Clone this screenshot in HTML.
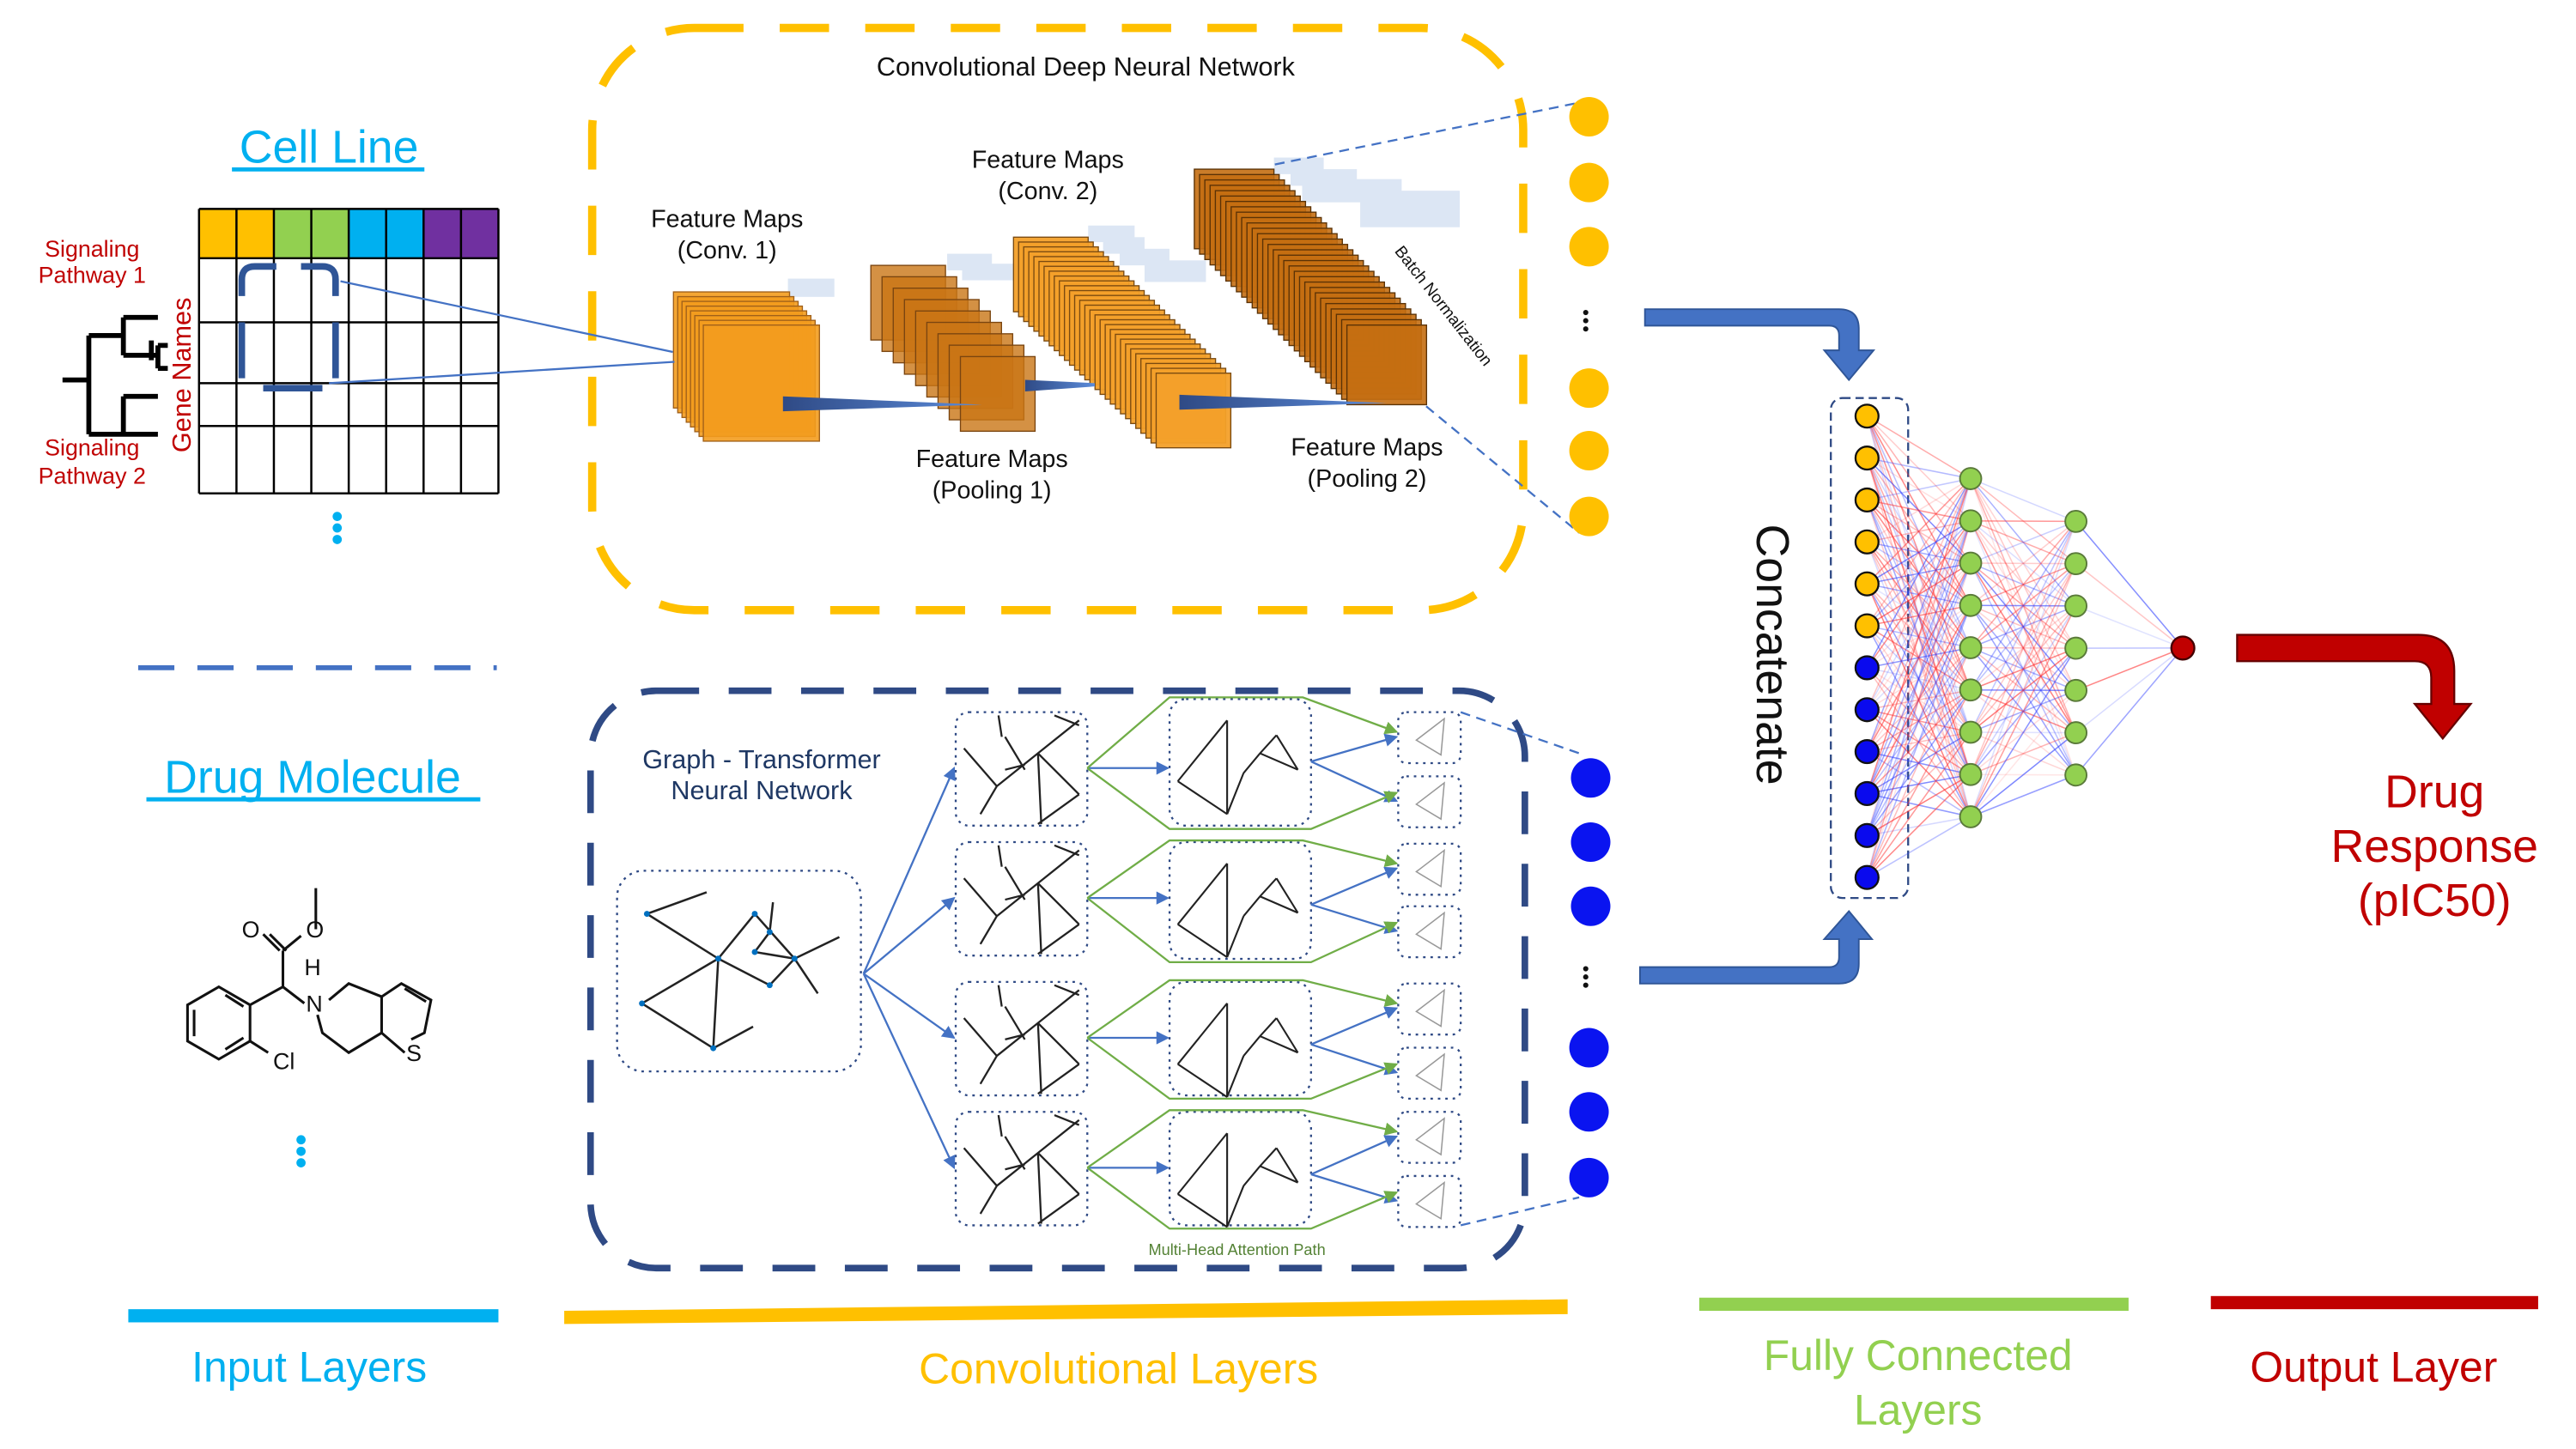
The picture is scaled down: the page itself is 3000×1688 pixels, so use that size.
<!DOCTYPE html>
<html><head><meta charset="utf-8"><style>
html,body{margin:0;padding:0;background:#fff;}
svg{display:block;}
text{font-family:"Liberation Sans",sans-serif;}
</style></head><body>
<svg id="s" width="3000" height="1688" viewBox="0 0 1566 881" preserveAspectRatio="none" xmlns="http://www.w3.org/2000/svg">
<defs>
<marker id="ab" markerWidth="8" markerHeight="8" refX="7" refY="4" orient="auto" markerUnits="userSpaceOnUse"><path d="M0,0 L8,4 L0,8 z" fill="#4472C4"/></marker>
<marker id="ag" markerWidth="8" markerHeight="8" refX="7" refY="4" orient="auto" markerUnits="userSpaceOnUse"><path d="M0,0 L8,4 L0,8 z" fill="#70AD47"/></marker>
<linearGradient id="tb" x1="0" x2="1"><stop offset="0" stop-color="#2F4A85"/><stop offset="1" stop-color="#5B8BD9"/></linearGradient>
</defs>
<rect width="1566" height="881" fill="#fff"/>

<!-- Top yellow box -->
<rect x="360" y="17" width="566" height="354" rx="62" fill="none" stroke="#FFC000" stroke-width="5" stroke-dasharray="30 22"/>
<text x="660" y="46" font-size="16" text-anchor="middle" fill="#111">Convolutional Deep Neural Network</text>

<g transform="scale(1.0084)">
<g fill="#DCE6F4">
<rect x="475" y="168" width="28" height="11"/>
<rect x="571" y="153" width="27" height="10"/><rect x="580" y="159" width="33" height="10"/>
<rect x="656" y="136" width="28" height="10"/><rect x="665" y="143" width="25" height="10"/><rect x="675" y="150" width="30" height="10"/><rect x="690" y="157" width="37" height="13"/>
<rect x="768" y="95" width="30" height="10"/><rect x="778" y="102" width="40" height="10"/><rect x="785" y="108" width="60" height="14"/><rect x="820" y="115" width="60" height="22"/>
</g>
<g id="stacks"></g>
<polygon points="472,239 592,244 472,248" fill="url(#tb)"/>
<polygon points="618,229 660,231 660,233 618,236" fill="url(#tb)"/>
<polygon points="711,238 836,243 711,247" fill="url(#tb)"/>
</g>

<text x="442" y="138" font-size="15" text-anchor="middle" fill="#111">Feature Maps</text>
<text x="442" y="157" font-size="15" text-anchor="middle" fill="#111">(Conv. 1)</text>
<text x="637" y="102" font-size="15" text-anchor="middle" fill="#111">Feature Maps</text>
<text x="637" y="121" font-size="15" text-anchor="middle" fill="#111">(Conv. 2)</text>
<text x="603" y="284" font-size="15" text-anchor="middle" fill="#111">Feature Maps</text>
<text x="603" y="303" font-size="15" text-anchor="middle" fill="#111">(Pooling 1)</text>
<text x="831" y="277" font-size="15" text-anchor="middle" fill="#111">Feature Maps</text>
<text x="831" y="296" font-size="15" text-anchor="middle" fill="#111">(Pooling 2)</text>
<text x="875" y="188" font-size="10" text-anchor="middle" fill="#111" transform="rotate(52 875 188)">Batch Normalization</text>

<line x1="775" y1="100" x2="962" y2="62" stroke="#4472C4" stroke-width="1.2" stroke-dasharray="6 4"/>
<line x1="867" y1="247" x2="960" y2="324" stroke="#4472C4" stroke-width="1.2" stroke-dasharray="6 4"/>

<g fill="#FFC000">
<circle cx="966" cy="71" r="12"/><circle cx="966" cy="111" r="12"/><circle cx="966" cy="150" r="12"/>
<circle cx="966" cy="236" r="12"/><circle cx="966" cy="274" r="12"/><circle cx="966" cy="314" r="12"/>
</g>
<g fill="#111"><circle cx="964" cy="190" r="1.6"/><circle cx="964" cy="195" r="1.6"/><circle cx="964" cy="200" r="1.6"/></g>

<!-- Cell line -->
<text x="200" y="99" font-size="28" text-anchor="middle" fill="#00B0F0">Cell Line</text>
<line x1="141" y1="103" x2="258" y2="103" stroke="#00B0F0" stroke-width="2.5"/>
<g id="grid"></g>
<text x="56" y="156" font-size="14" text-anchor="middle" fill="#C00000">Signaling</text>
<text x="56" y="172" font-size="14" text-anchor="middle" fill="#C00000">Pathway 1</text>
<text x="56" y="277" font-size="14" text-anchor="middle" fill="#C00000">Signaling</text>
<text x="56" y="294" font-size="14" text-anchor="middle" fill="#C00000">Pathway 2</text>
<text x="0" y="0" font-size="16" text-anchor="middle" fill="#C00000" transform="translate(116 228) rotate(-90)">Gene Names</text>
<path d="M38,231 H54 M54,204 V264 M54,204 H75 M54,264 H75 M75,193 V216 M75,193 H96 M75,216 H96 M96,210 V224 M96,210 H102 M96,224 H102 M92,207 V219 M75,241 V264 M75,241 H96 M75,264 H96" fill="none" stroke="#000" stroke-width="3"/>
<path d="M147,180 V170 Q147,162 155,162 H168 M183,162 H196 Q204,162 204,170 V180 M147,196 V230 M204,196 V230 M160,236 H196" fill="none" stroke="#2F5597" stroke-width="4"/>
<line x1="207" y1="171" x2="409" y2="214" stroke="#4472C4" stroke-width="1.2"/>
<line x1="200" y1="233" x2="410" y2="220" stroke="#4472C4" stroke-width="1.2"/>
<g fill="#00B0F0"><circle cx="205" cy="314" r="2.8"/><circle cx="205" cy="321" r="2.8"/><circle cx="205" cy="328" r="2.8"/></g>

<line x1="84" y1="406" x2="302" y2="406" stroke="#4472C4" stroke-width="3" stroke-dasharray="22 14"/>

<!-- Drug molecule -->
<text x="190" y="482" font-size="28" text-anchor="middle" fill="#00B0F0">Drug Molecule</text>
<line x1="89" y1="486" x2="292" y2="486" stroke="#00B0F0" stroke-width="2.5"/>
<g fill="none" stroke="#111" stroke-width="1.6">
<polygon points="133,600 152,611 152,633 133,644 114,633 114,611"/>
<path d="M137,605 L148,612 M148,631 L137,638 M118,630 V614"/>
<path d="M152,611 L172,600 L172,578 M172,600 L185,610"/>
<path d="M170,578 L160,568 M174,578 L164,568 M172,578 L183,569 M192,565 V540"/>
<path d="M152,633 L163,640"/>
<path d="M200,608 L212,598 L232,606 L232,628 L212,640 L196,628 L193,617"/>
<path d="M232,606 L244,598 L262,608 L258,628 L250,632 M232,628 L246,640"/>
<path d="M246,601 L259,609"/>
</g>
<text x="147" y="570" font-size="14" fill="#111">O</text>
<text x="186" y="570" font-size="14" fill="#111">O</text>
<text x="185" y="593" font-size="14" fill="#111">H</text>
<text x="186" y="615" font-size="14" fill="#111">N</text>
<text x="166" y="650" font-size="14" fill="#111">Cl</text>
<text x="247" y="645" font-size="14" fill="#111">S</text>
<g fill="#00B0F0"><circle cx="183" cy="693" r="2.8"/><circle cx="183" cy="700" r="2.8"/><circle cx="183" cy="707" r="2.8"/></g>

<!-- Bottom navy box -->
<rect x="359" y="420" width="568" height="351" rx="40" fill="none" stroke="#2F4A85" stroke-width="4" stroke-dasharray="26 18"/>
<text x="463" y="467" font-size="16" text-anchor="middle" fill="#1F3864">Graph - Transformer</text>
<text x="463" y="486" font-size="16" text-anchor="middle" fill="#1F3864">Neural Network</text>
<g id="graphs"></g>
<g transform="scale(1.0084)">
<rect x="372" y="525" width="147" height="121" rx="16" fill="none" stroke="#2F4A85" stroke-width="1.2" stroke-dasharray="1.5 3"/>
<g stroke="#222" stroke-width="1.3" fill="none">
<path d="M390,551 L426,538 M390,551 L433,578 L455,551 L479,578 M464,562 L466,544 M464,562 L455,574 L479,578 M433,578 L464,594 L479,578 L506,565 M479,578 L493,599 M433,578 L387,605 L430,632 L433,578 M430,632 L454,619"/>
</g>
<g fill="#0070C0"><circle cx="390" cy="551" r="1.8"/><circle cx="433" cy="578" r="1.8"/><circle cx="455" cy="551" r="1.8"/><circle cx="464" cy="562" r="1.8"/><circle cx="455" cy="574" r="1.8"/><circle cx="479" cy="578" r="1.8"/><circle cx="464" cy="594" r="1.8"/><circle cx="387" cy="605" r="1.8"/><circle cx="430" cy="632" r="1.8"/></g>
</g>
<text x="752" y="763" font-size="9.5" text-anchor="middle" fill="#548235">Multi-Head Attention Path</text>
<line x1="888" y1="433" x2="960" y2="458" stroke="#4472C4" stroke-width="1.2" stroke-dasharray="6 4"/>
<line x1="888" y1="745" x2="960" y2="728" stroke="#4472C4" stroke-width="1.2" stroke-dasharray="6 4"/>
<g fill="#0A14F0">
<ellipse cx="967" cy="473" rx="12" ry="12"/><ellipse cx="967" cy="512" rx="12" ry="12"/><ellipse cx="967" cy="551" rx="12" ry="12"/>
<ellipse cx="966" cy="637" rx="12" ry="12"/><ellipse cx="966" cy="676" rx="12" ry="12"/><ellipse cx="966" cy="716" rx="12" ry="12"/>
</g>
<g fill="#111"><circle cx="964" cy="589" r="1.6"/><circle cx="964" cy="594" r="1.6"/><circle cx="964" cy="599" r="1.6"/></g>

<!-- blue bent arrows -->
<path d="M1000,188 H1118 Q1130,188 1130,200 V213 H1139 L1124,231 L1109,213 H1118 V204 Q1118,198 1112,198 H1000 Z" fill="#4472C4" stroke="#2F5597" stroke-width="1"/>
<path d="M997,598 H1118 Q1130,598 1130,586 V571 H1138 L1124,554 L1109,571 H1118 V582 Q1118,588 1112,588 H997 Z" fill="#4472C4" stroke="#2F5597" stroke-width="1"/>

<text x="0" y="0" font-size="28" text-anchor="middle" fill="#111" transform="translate(1068 398) rotate(90)">Concatenate</text>
<rect x="1113" y="242" width="47" height="304" rx="7" fill="none" stroke="#2F4A85" stroke-width="1.2" stroke-dasharray="5 3"/>
<g id="nn"></g>

<!-- red arrow -->
<path d="M1360,386 H1470 Q1492,386 1492,408 V428 H1502 L1485,449 L1468,428 H1478 V412 Q1478,402 1468,402 H1360 Z" fill="#C00000" stroke="#600" stroke-width="1.2"/>
<text x="1480" y="491" font-size="28" text-anchor="middle" fill="#C00000">Drug</text>
<text x="1480" y="524" font-size="28" text-anchor="middle" fill="#C00000">Response</text>
<text x="1480" y="557" font-size="28" text-anchor="middle" fill="#C00000">(pIC50)</text>

<!-- bottom bars -->
<rect x="78" y="796" width="225" height="8" fill="#00B0F0"/>
<polygon points="343,797 953,790 953,799 343,805" fill="#FFC000"/>
<rect x="1033" y="789" width="261" height="8" fill="#92D050"/>
<rect x="1344" y="788" width="199" height="8" fill="#C00000"/>
<text x="188" y="840" font-size="26" text-anchor="middle" fill="#00B0F0">Input Layers</text>
<text x="680" y="841" font-size="26" text-anchor="middle" fill="#FFC000">Convolutional Layers</text>
<text x="1166" y="833" font-size="26" text-anchor="middle" fill="#92D050">Fully Connected</text>
<text x="1166" y="866" font-size="26" text-anchor="middle" fill="#92D050">Layers</text>
<text x="1443" y="840" font-size="26" text-anchor="middle" fill="#C00000">Output Layer</text>
</svg>
<script>
var NS="http://www.w3.org/2000/svg";
function el(p,t,a){var e=document.createElementNS(NS,t);for(var k in a)e.setAttribute(k,a[k]);p.appendChild(e);return e;}
var g=document.getElementById("grid");
var cols=["#FFC000","#FFC000","#92D050","#92D050","#00B0F0","#00B0F0","#7030A0","#7030A0"];
var x0=121,w=182/8;
for(var i=0;i<8;i++)el(g,"rect",{x:x0+i*w,y:127,width:w,height:30,fill:cols[i]});
[127,157,196,233,259,300].forEach(function(y){el(g,"line",{x1:x0,y1:y,x2:303,y2:y,stroke:"#000","stroke-width":1.3});});
for(var i=0;i<=8;i++)el(g,"line",{x1:x0+i*w,y1:127,x2:x0+i*w,y2:300,stroke:"#000","stroke-width":1.3});
var st=document.getElementById("stacks");
function stack(n,x,y,x2,y2,s,fill,stroke,op){
 var dx=(x2-x)/(n-1),dy=(y2-y)/(n-1);
 for(var i=0;i<n;i++)el(st,"rect",{x:x+i*dx,y:y+i*dy,width:s,height:s,fill:fill,stroke:stroke,"stroke-width":0.7,"fill-opacity":op});
}
stack(8,406,176,424,196,70,"#F39C1E","#A0601A",0.9);
stack(9,525,160,579,215,45,"#C97515","#7A4510",0.8);
stack(29,611,143,697,225,45,"#F3A02A","#7A4A10",0.95);
stack(30,720,102,812,196,48,"#C46E12","#5A3206",0.9);
var gr=document.getElementById("graphs");
function box(x,y,w,h,r){el(gr,"rect",{x:x,y:y,width:w,height:h,rx:r,fill:"none",stroke:"#2F4A85","stroke-width":1.2,"stroke-dasharray":"1.5 3"});}
function lines(d,ox,oy,c,wd){var p="";d.forEach(function(s){p+="M"+(ox+s[0])+","+(oy+s[1])+" L"+(ox+s[2])+","+(oy+s[3])+" ";});el(gr,"path",{d:p,stroke:c,"stroke-width":wd,fill:"none"});}
var c1=[433,512,597,676],c2=[425,512,597,676],c3=[433,472,513,551,598,637,676,715];
c1.forEach(function(y){box(581,y,80,69,8);
 lines([[5,22,25,45],[25,45,50,25],[50,25,75,5],[50,25,75,50],[75,50,50,68],[50,25,52,68],[30,15,42,35],[25,45,15,62],[60,2,75,8],[28,15,26,2],[30,35,42,32]],581,y,"#222",1.2);
 el(gr,"line",{x1:525,y1:592,x2:580,y2:y+34,stroke:"#4472C4","stroke-width":1.2,"marker-end":"url(#ab)"});
 el(gr,"line",{x1:661,y1:y+34,x2:710,y2:y+34,stroke:"#4472C4","stroke-width":1.2,"marker-end":"url(#ab)"});
});
c2.forEach(function(y,i){var h=(i==0?77:i==1?71:69);box(711,y,86,h,10);
 lines([[5,45,35,8],[35,8,35,65],[35,65,5,45],[35,65,45,40],[45,40,55,28],[55,28,78,38],[78,38,65,17],[65,17,55,28]],711,y+5,"#222",1.1);
 var a=c3[2*i],b=c3[2*i+1];
 el(gr,"line",{x1:797,y1:y+38,x2:849,y2:a+15,stroke:"#4472C4","stroke-width":1.2,"marker-end":"url(#ab)"});
 el(gr,"line",{x1:797,y1:y+38,x2:849,y2:b+15,stroke:"#4472C4","stroke-width":1.2,"marker-end":"url(#ab)"});
 var cy=c1[i]+34;
 el(gr,"path",{d:"M661,"+cy+" L711,"+(y-1)+" L792,"+(y-1)+" L849,"+(a+12),stroke:"#70AD47","stroke-width":1.2,fill:"none","marker-end":"url(#ag)"});
 el(gr,"path",{d:"M661,"+cy+" L711,"+(y+h+2)+" L797,"+(y+h+2)+" L849,"+(b+10),stroke:"#70AD47","stroke-width":1.2,fill:"none","marker-end":"url(#ag)"});
});
c3.forEach(function(y){box(850,y,38,31,5);
 el(gr,"path",{d:"M878,"+(y+4)+" L861,"+(y+17)+" L876,"+(y+26)+" Z",stroke:"#999","stroke-width":0.8,fill:"none"});});
var nn=document.getElementById("nn");
var L0=[],L1=[],L2=[];
for(var i=0;i<12;i++)L0.push([1135,253+i*25.5]);
for(var i=0;i<9;i++)L1.push([1198,291+i*25.7]);
for(var i=0;i<7;i++)L2.push([1262,317+i*25.7]);
var seed=7;function rnd(){seed=(seed*9301+49297)%233280;return seed/233280;}
function conn(A,B){A.forEach(function(a){B.forEach(function(b){var r=rnd();var c=r<0.5?"#FF3030":"#3040FF";el(nn,"line",{x1:a[0],y1:a[1],x2:b[0],y2:b[1],stroke:c,"stroke-width":0.8,"stroke-opacity":(0.12+rnd()*0.5).toFixed(2)});});});}
conn(L0,L1);conn(L1,L2);conn(L2,[[1327,394]]);
L0.forEach(function(p,i){el(nn,"circle",{cx:p[0],cy:p[1],r:7,fill:i<6?"#FFC000":"#0A0AEE",stroke:"#111","stroke-width":1.2});});
L1.forEach(function(p){el(nn,"circle",{cx:p[0],cy:p[1],r:6.5,fill:"#92D050",stroke:"#5A7A3A","stroke-width":1});});
L2.forEach(function(p){el(nn,"circle",{cx:p[0],cy:p[1],r:6.5,fill:"#92D050",stroke:"#5A7A3A","stroke-width":1});});
el(nn,"circle",{cx:1327,cy:394,r:7,fill:"#C00000",stroke:"#400","stroke-width":1.2});
</script>
</body></html>
